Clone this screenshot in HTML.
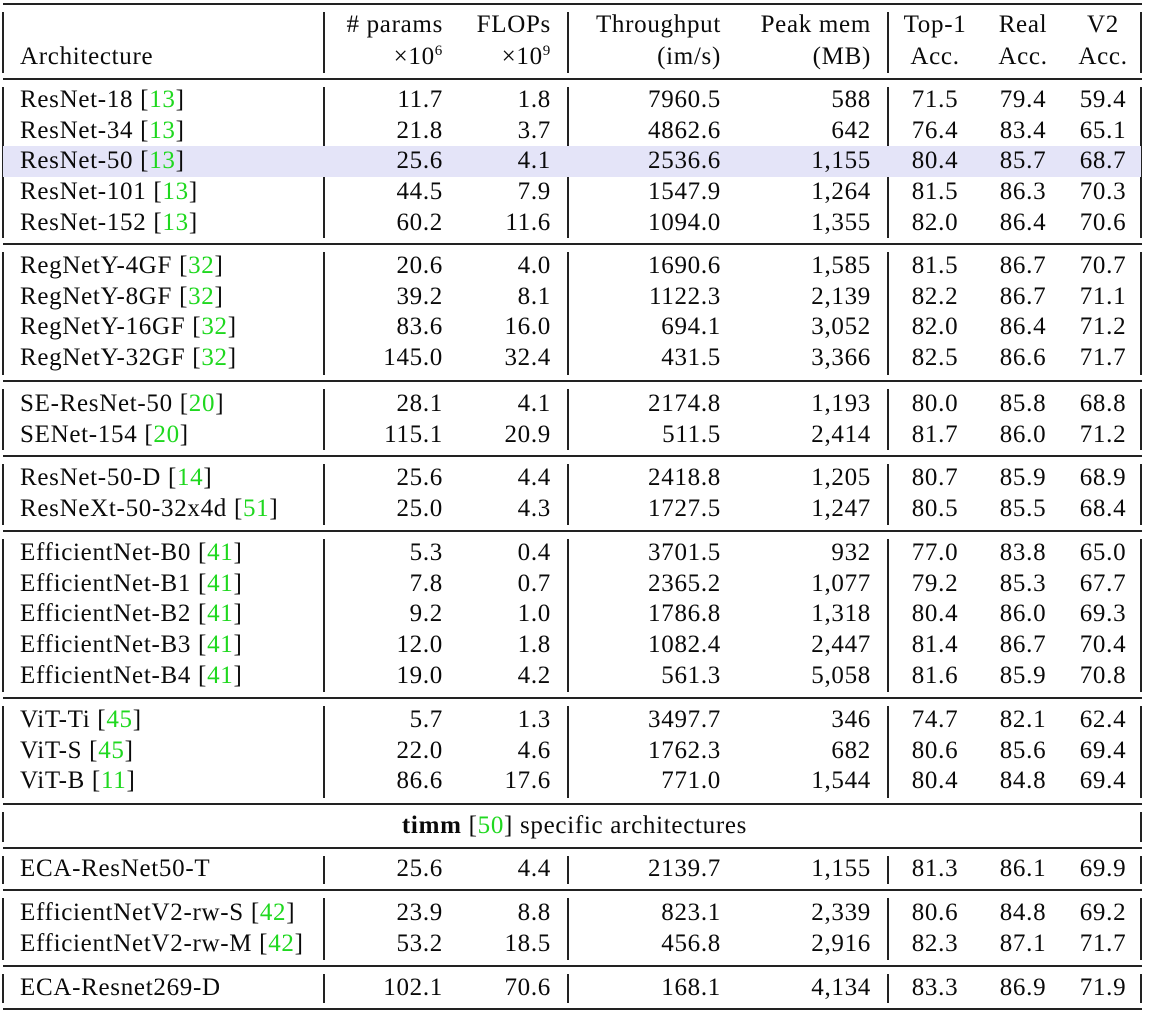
<!DOCTYPE html>
<html><head><meta charset="utf-8">
<style>
html,body{margin:0;padding:0;background:#fff;}
#t{position:relative;width:1149px;height:1020px;overflow:hidden;font-family:"Liberation Serif","DejaVu Serif",serif;font-size:25px;color:#0a0a0a;letter-spacing:0.7px;}
.c{position:absolute;white-space:nowrap;line-height:30px;height:30px;}
.h{position:absolute;background:#222;left:3px;width:1139px;}
.v{position:absolute;background:#222;width:1.3px;}
.ref{color:#1fd81f;}
sup{font-size:15px;line-height:0;vertical-align:9px;}
</style></head>
<body>
<div id="t">
  <div class="c" style="left:20px;top:42px;">Architecture</div>
  <div class="c" style="right:706px;top:10px;text-align:right;"># params</div>
  <div class="c" style="right:706px;top:42px;">×10<sup>6</sup></div>
  <div class="c" style="right:598px;top:10px;">FLOPs</div>
  <div class="c" style="right:598px;top:42px;">×10<sup>9</sup></div>
  <div class="c" style="right:428px;top:10px;">Throughput</div>
  <div class="c" style="right:428px;top:42px;">(im/s)</div>
  <div class="c" style="right:278px;top:10px;">Peak mem</div>
  <div class="c" style="right:278px;top:42px;">(MB)</div>
  <div class="c" style="left:885px;width:100px;text-align:center;top:10px;">Top-1</div>
  <div class="c" style="left:885px;width:100px;text-align:center;top:42px;">Acc.</div>
  <div class="c" style="left:973px;width:100px;text-align:center;top:10px;">Real</div>
  <div class="c" style="left:973px;width:100px;text-align:center;top:42px;">Acc.</div>
  <div class="c" style="left:1053px;width:100px;text-align:center;top:10px;">V2</div>
  <div class="c" style="left:1053px;width:100px;text-align:center;top:42px;">Acc.</div>
  <div class="c" style="left:0;width:1149px;text-align:center;top:811px;"><b>timm</b> [<span class="ref">50</span>] specific architectures</div>
</div>
<script>
const names=["ResNet-18","ResNet-34","ResNet-50","ResNet-101","ResNet-152","RegNetY-4GF","RegNetY-8GF","RegNetY-16GF","RegNetY-32GF","SE-ResNet-50","SENet-154","ResNet-50-D","ResNeXt-50-32x4d","EfficientNet-B0","EfficientNet-B1","EfficientNet-B2","EfficientNet-B3","EfficientNet-B4","ViT-Ti","ViT-S","ViT-B","ECA-ResNet50-T","EfficientNetV2-rw-S","EfficientNetV2-rw-M","ECA-Resnet269-D"];
const refs=["13","13","13","13","13","32","32","32","32","20","20","14","51","41","41","41","41","41","45","45","11","","42","42",""];
const params=["11.7","21.8","25.6","44.5","60.2","20.6","39.2","83.6","145.0","28.1","115.1","25.6","25.0","5.3","7.8","9.2","12.0","19.0","5.7","22.0","86.6","25.6","23.9","53.2","102.1"];
const flops=["1.8","3.7","4.1","7.9","11.6","4.0","8.1","16.0","32.4","4.1","20.9","4.4","4.3","0.4","0.7","1.0","1.8","4.2","1.3","4.6","17.6","4.4","8.8","18.5","70.6"];
const throughput=["7960.5","4862.6","2536.6","1547.9","1094.0","1690.6","1122.3","694.1","431.5","2174.8","511.5","2418.8","1727.5","3701.5","2365.2","1786.8","1082.4","561.3","3497.7","1762.3","771.0","2139.7","823.1","456.8","168.1"];
const peakMem=["588","642","1,155","1,264","1,355","1,585","2,139","3,052","3,366","1,193","2,414","1,205","1,247","932","1,077","1,318","2,447","5,058","346","682","1,544","1,155","2,339","2,916","4,134"];
const top1=["71.5","76.4","80.4","81.5","82.0","81.5","82.2","82.0","82.5","80.0","81.7","80.7","80.5","77.0","79.2","80.4","81.4","81.6","74.7","80.6","80.4","81.3","80.6","82.3","83.3"];
const real=["79.4","83.4","85.7","86.3","86.4","86.7","86.7","86.4","86.6","85.8","86.0","85.9","85.5","83.8","85.3","86.0","86.7","85.9","82.1","85.6","84.8","86.1","84.8","87.1","86.9"];
const v2=["59.4","65.1","68.7","70.3","70.6","70.7","71.1","71.2","71.7","68.8","71.2","68.9","68.4","65.0","67.7","69.3","70.4","70.8","62.4","69.4","69.4","69.9","69.2","71.7","71.9"];
const groupSizes=[5,4,2,2,5,3,0,1,2,1];
const groupStarts=[100,266,404,478,553,720,826,869,913,988];
const seps=[79,244,381,456,531,698,804,848,890,966,1009];
const highlight=2;

const T=document.getElementById('t');
const RH=30.7;
function add(cls,style,html){const d=document.createElement('div');d.className=cls;d.setAttribute('style',style);if(html!==undefined)d.innerHTML=html;T.appendChild(d);return d;}

seps.forEach((y,i)=>{
  const th=(i===seps.length-1)?2.2:(i===0?1.6:1.2);
  const r=add('h',`top:${y-th/2}px;height:${th}px;`);
  
  
});
const topRule=add('h','top:3px;height:2.4px;');


const vx=[3,324,568,888,1141];
function vlines(y0,y1,xs){xs.forEach(x=>{const v=add('v',`left:${x-0.6}px;top:${y0}px;height:${y1-y0}px;`);
  
  });}
vlines(12,73,vx);

let idx=0;
groupSizes.forEach((n,g)=>{
  const y0=seps[g]+8, y1=seps[g+1]-6;
  vlines(y0,y1,n===0?[3,1141]:vx);
  for(let k=0;k<n;k++){
    const i=idx++;
    const cy=groupStarts[g]+k*RH;
    const ty=cy-15;
    if(i===highlight){
      const hl=add('c',`left:3px;width:1138px;top:${cy-15.5}px;height:31px;background:#e4e4f8;`);
      
      
    }
    const nm=add('c',`left:20px;top:${ty}px;`,names[i]+(refs[i]?` [<span class="ref">${refs[i]}</span>]`:''));
    
    
    const cols=[[params,706,'params'],[flops,598,'flops'],[throughput,428,'throughput'],[peakMem,278,'peak-mem']];
    cols.forEach(([arr,r,nmz])=>{const d=add('c',`right:${r}px;top:${ty}px;`,arr[i]);
      
      });
    const ccols=[[top1,935,'top1'],[real,1023,'real-acc'],[v2,1103,'v2-acc']];
    ccols.forEach(([arr,cx,nmz])=>{const d=add('c',`left:${cx-50}px;width:100px;text-align:center;top:${ty}px;`,arr[i]);
      
      });
  }
});
</script>
</body></html>
